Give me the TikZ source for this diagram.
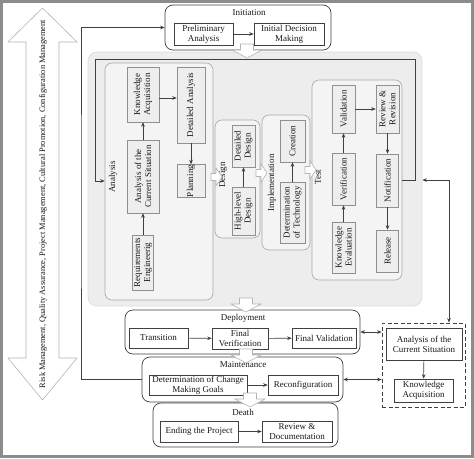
\documentclass[tikz,border=0pt]{standalone}
\usepackage{fontspec}
\setmainfont{Liberation Serif}
\usetikzlibrary{arrows.meta}
\definecolor{framegray}{HTML}{8C8C8C}
\definecolor{panelfill}{HTML}{EDEDED}
\definecolor{paneldraw}{HTML}{DEDEDE}
\definecolor{stgfill}{HTML}{F4F4F4}
\definecolor{stgdraw}{HTML}{A8A8A8}
\definecolor{inbfill}{HTML}{EEEEEE}
\definecolor{inbdraw}{HTML}{909090}
\definecolor{dark}{HTML}{404040}
\definecolor{hgray}{HTML}{B4B4B4}
\begin{document}
\begin{tikzpicture}[x=1pt,y=-1pt,
  font=\fontsize{9}{10}\selectfont, text=black!90,
  inb/.style={draw=inbdraw, fill=inbfill, line width=0.5, inner sep=0.5, align=center, rotate=90},
  wb/.style={draw=dark, fill=white, line width=0.6, inner sep=0.5, align=center},
  stage/.style={draw=stgdraw, fill=stgfill, rounded corners=7, line width=0.6},
  phase/.style={draw=dark, fill=white, rounded corners=8, line width=0.7},
  panelbox/.style={draw=paneldraw, fill=panelfill, rounded corners=9, line width=0.8},
  ttl/.style={inner sep=0},
  arr/.style={-{Stealth[length=4.5pt,width=3.6pt]}, draw=dark, line width=0.6},
  arr2/.style={{Stealth[length=4.5pt,width=3.6pt]}-{Stealth[length=4.5pt,width=3.6pt]}, draw=dark, line width=0.6},
  hollow/.style={draw=hgray, fill=white, line width=0.6},
  hdown/.pic={\draw[hollow] (-6.5,-7) -- (6.5,-7) -- (6.5,-1) -- (15,-1) -- (0,7) -- (-15,-1) -- (-6.5,-1) -- cycle;},
  hright/.pic={\draw[hollow] (-5,-3.5) -- (0,-3.5) -- (0,-9) -- (6,0) -- (0,9) -- (0,3.5) -- (-5,3.5) -- cycle;}
]
\useasboundingbox (0,0) rectangle (474,458);
\draw[line width=3, draw=framegray] (1.5,1.5) rectangle (472.5,456.5);

% side arrow
\draw[hollow] (42.5,8) -- (77,42) -- (59,42) -- (59,358) -- (77,358) -- (42.5,400) -- (8,358) -- (26,358) -- (26,42) -- (8,42) -- cycle;
\node[rotate=90, ttl, font=\fontsize{8.4}{10}\selectfont] (mgmt) at (43,204) {Risk Management, Quality Assurance, Project Management, Cultural Promotion, Configuration Management};

% Initiation
\node[phase, minimum width=166, minimum height=45] (init) at (248,27.5) {};
\node[ttl] (initT) at (249,13) {Initiation};
\node[wb, minimum width=59, minimum height=22] (pa) at (203.5,34) {Preliminary\\Analysis};
\node[wb, minimum width=70, minimum height=22] (idm) at (289,34) {Initial Decision\\Making};
\draw[arr] (pa) -- (idm);

% panel
\node[panelbox, minimum width=334, minimum height=254] (panel) at (255,179) {};
\coordinate (lpA) at (415,180);
\coordinate (lpB) at (415,59);
\coordinate (lpC) at (95,59);
\coordinate (lpD) at (95,181);

% Analysis
\node[stage, minimum width=108, minimum height=237] (ana) at (159,181.5) {};
\node[ttl, rotate=90] (anaT) at (113,177) {Analysis};
\node[inb, minimum width=55, minimum height=21] (re) at (143,262.5) {Requirements\\Engineerig};
\node[inb, minimum width=73, minimum height=32] (acs) at (143,176.5) {Analysis of the\\Current Situation};
\node[inb, minimum width=55, minimum height=32] (ka) at (143,94.5) {Knowledge\\Acquisition};
\node[inb, minimum width=76, minimum height=28] (da) at (191,105) {Detailed Analysis};
\node[inb, minimum width=32, minimum height=28] (pl) at (191,181) {Planning};
\coordinate (kaY) at (0,98);
\draw[arr] (re) -- (acs);
\draw[arr] (acs) -- (ka);
\draw[arr] (ka.south |- kaY) -- (da.north |- kaY);
\draw[arr] (da) -- (pl);

% Design
\node[stage, minimum width=45, minimum height=118] (des) at (237.5,179) {};
\node[ttl, rotate=90] (desT) at (223,175) {Design};
\node[inb, minimum width=42, minimum height=23] (dd) at (243.5,146) {Detailed\\Design};
\node[inb, minimum width=48, minimum height=23] (hld) at (243.5,211) {High-level\\Design};
\draw[arr] (hld) -- (dd);

% Implementation
\node[stage, minimum width=48, minimum height=135] (imp) at (286,182.5) {};
\node[ttl, rotate=90] (impT) at (272,183) {Implementation};
\node[inb, minimum width=42, minimum height=25] (cr) at (292.5,141) {Creation};
\node[inb, minimum width=61, minimum height=25] (dot) at (292.5,212.5) {Determination\\of Technology};
\draw[arr] (dot) -- (cr);

% Test
\node[stage, minimum width=90, minimum height=200] (tst) at (357,180) {};
\node[ttl, rotate=90] (tstT) at (318,177) {Test};
\node[inb, minimum width=48, minimum height=23] (val) at (343.5,109) {Validation};
\node[inb, minimum width=52, minimum height=23] (ver) at (343.5,179) {Verification};
\node[inb, minimum width=51, minimum height=23] (ke) at (343.5,247.5) {Knowledge\\Evaluation};
\node[inb, minimum width=48, minimum height=23] (rr) at (387.5,109) {Review \&\\Revision};
\node[inb, minimum width=53, minimum height=22] (nt) at (387.5,180.5) {Notification};
\node[inb, minimum width=42, minimum height=22] (rel) at (387.5,251) {Release};
\draw[arr] (ke) -- (ver);
\draw[arr] (ver) -- (val);
\draw[arr] (val) -- (rr);
\draw[arr] (rr) -- (nt);
\draw[arr] (nt) -- (rel);

% loop
\draw[arr] (tst.east) -- (lpA) -- (lpB) -- (lpC) -- (lpD) -- (ana.west |- lpD);

% stage block arrows
\pic at (216,177) {hright};
\pic at (261,173) {hright};
\pic at (310,170) {hright};

% Deployment
\node[phase, minimum width=235, minimum height=44] (dep) at (242.5,332) {};
\node[ttl] (depT) at (243,318) {Deployment};
\node[wb, minimum width=59, minimum height=20] (tr) at (158.5,338) {Transition};
\node[wb, minimum width=56, minimum height=21] (fv) at (240,338.5) {Final\\Verification};
\node[wb, minimum width=64, minimum height=20] (fval) at (324,338) {Final Validation};
\draw[arr] (tr) -- (fv);
\draw[arr] (fv) -- (fval);

% Maintenance
\node[phase, minimum width=201, minimum height=45] (mnt) at (242.5,379.5) {};
\node[ttl] (mntT) at (243,365) {Maintenance};
\node[wb, minimum width=98, minimum height=20] (dcmg) at (198,385) {Determination of Change\\Making Goals};
\node[wb, minimum width=70, minimum height=20] (rc) at (303,385) {Reconfiguration};
\draw[arr] (dcmg) -- (rc);

% Death
\node[phase, minimum width=185, minimum height=44] (dth) at (245.5,425) {};
\node[ttl] (dthT) at (243,412) {Death};
\node[wb, minimum width=78, minimum height=21] (ep) at (199,431.5) {Ending the Project};
\node[wb, minimum width=70, minimum height=21] (rd) at (297,431.5) {Review \&\\Documentation};
\draw[arr] (ep) -- (rd);

% dashed side box
\node[draw=dark, dash pattern=on 4pt off 2.5pt, line width=0.7, minimum width=83, minimum height=84] (dsh) at (423.5,365) {};
\node[wb, minimum width=76, minimum height=32] (acs2) at (424,344) {Analysis of the\\Current Situation};
\node[wb, minimum width=59, minimum height=23] (ka2) at (423.5,390.5) {Knowledge\\Acquisition};
\draw[arr] (acs2) -- (ka2);

\draw[arr2] (dep.east) -- (dsh.west |- dep.east);
\draw[arr2] (mnt.east) -- (dsh.west |- mnt.east);
\coordinate (rcA) at (449,180);
\draw[arr2] (panel.east |- rcA) -- (rcA) -- (dsh.north -| rcA);

% left return line
\coordinate (lc) at (81,200);
\draw[arr] (mnt.west) -| (lc) |- (init.west);

% phase block arrows
\pic at (247,51) {hdown};
\pic at (246,305) {hdown};
\pic at (246,356) {hdown};
\pic at (250,400) {hdown};
\end{tikzpicture}
\end{document}
